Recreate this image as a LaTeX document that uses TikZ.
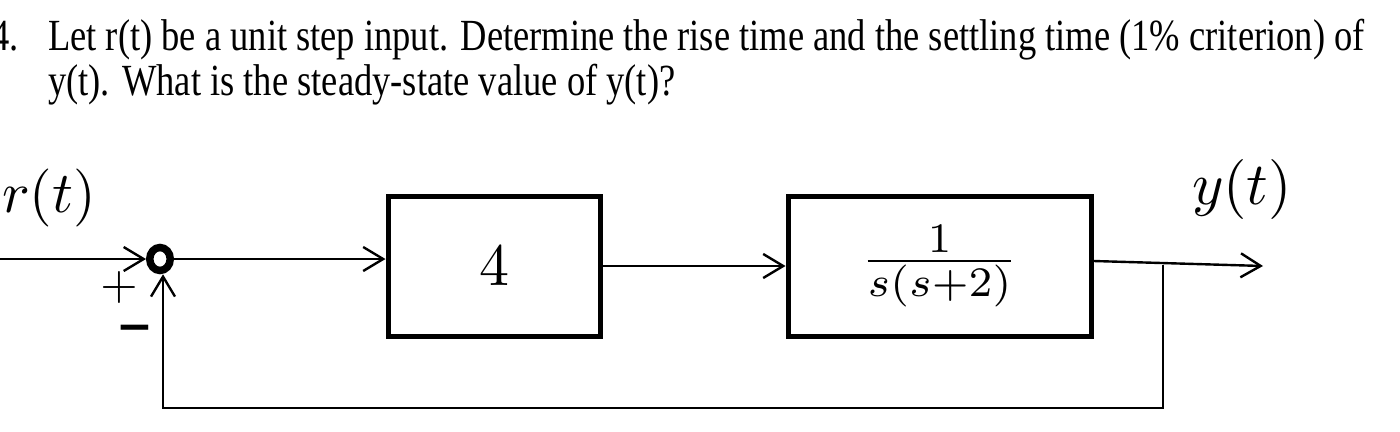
\documentclass[tikz,border=0pt]{standalone}
\usepackage{graphicx}
\usepackage{fontspec}
\newfontfamily\qfont[FakeStretch=0.82]{Liberation Serif}
\newfontfamily\djv{DejaVu Sans}
\usetikzlibrary{arrows.meta,shapes.geometric}
\tikzset{
  blockbox/.style={draw, line width=5pt, inner sep=0pt},
  conn/.style={line width=2.4pt},
  arr/.style={conn, -{Straight Barb[length=20pt, width=24pt, line width=2.4pt]}},
  mathlabel/.style={inner sep=0pt},
  qtext/.style={anchor=base west, inner sep=0pt, font=\qfont\fontsize{44.5}{50}\selectfont},
}
\begin{document}
\begin{tikzpicture}[x=1pt,y=-1pt]
\useasboundingbox (0,0) rectangle (1400,431);
% question text
\node[qtext] (num) at (-9,50) {4.};
\node[qtext] (l1) at (48,50) {Let r(t) be a unit step input. Determine the rise time and the settling time (1\% criterion) of};
\node[qtext] (l2) at (48,95) {y(t). What is the steady-state value of y(t)?};
% blocks
\node[blockbox, minimum width=212pt, minimum height=140pt] (b1) at (494,266) {\scalebox{6}{$4$}};
\node[blockbox, minimum width=303pt, minimum height=140pt] (b2) at (939.5,266) {\scalebox{6}{$\frac{1}{s(s+2)}$}};
% summing junction
\node[draw, ellipse, line width=7.5pt, minimum width=20.5pt, minimum height=23pt, inner sep=0pt] (sum) at (160,259) {};
% labels
\node[mathlabel] (rt) at (49,198) {\scalebox{5.8}{$r(t)$}};
\node[mathlabel] (yt) at (1242,189) {\scalebox{6}{$y(t)$}};
\node[inner sep=0pt] (plus) at (119,287) {\scalebox{4.8}{$+$}};
\node[inner sep=0pt, font=\djv\bfseries\fontsize{44}{44}\selectfont] (minus) at (135,333) {−};
% connectors
\coordinate (in) at (0,259);
\coordinate (out) at (1263,266);
\coordinate (br) at (1163,265);
\coordinate (fb) at (1163,408);
\coordinate (fl) at (163,408);
\draw[arr] (in) -- (sum.west);
\draw[arr] (sum.east) -- (sum.east -| b1.west);
\draw[arr] (b1.east) -- (b2.west);
\draw[arr] ([yshift=5pt]b2.east) -- (out);
\draw[arr] (br) -- (fb) -- (fl) -- (sum.south -| fl);
\end{tikzpicture}
\end{document}
